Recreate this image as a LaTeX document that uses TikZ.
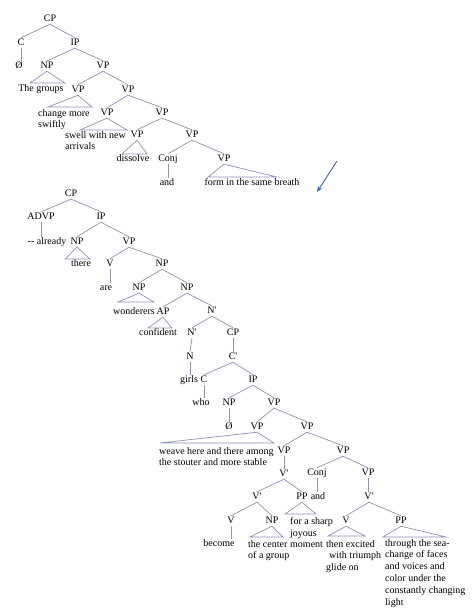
\documentclass[tikz,border=0pt]{standalone}
\usepackage{fontspec}
\setmainfont{Liberation Serif}
\usetikzlibrary{arrows.meta}
\definecolor{edgec}{RGB}{140,146,185}
\definecolor{arrowblue}{RGB}{70,100,180}
\begin{document}
\begin{tikzpicture}[x=1pt,y=-1pt,
  lab/.style={font=\fontsize{10}{11.8}\selectfont, inner sep=0.5pt, text height=7pt, text depth=2pt, anchor=center},
  multi/.style={font=\fontsize{10}{11.8}\selectfont, inner sep=0pt, align=left, anchor=north west},
  edge/.style={draw=edgec, line width=0.7pt}]
\path[use as bounding box, fill=white] (0,0) rectangle (474,616);

% ---------------- tree 1 ----------------
\node[lab] (cp1) at (50,19) {CP};
\node[lab] (c1) at (21,43) {C};
\node[lab] (ip1) at (75,43) {IP};
\node[lab] (z1) at (19,66) {Ø};
\node[lab] (np1) at (47,66) {NP};
\node[lab] (vp1) at (103,66) {VP};
\node[lab] (groups) at (41,89) {The groups};
\node[lab] (vp2) at (78,90) {VP};
\node[lab] (vp3) at (128,90) {VP};
\node[multi] (change) at (38,109) {change more\\swiftly};
\node[lab] (vp4) at (107,113) {VP};
\node[lab] (vp5) at (162,113) {VP};
\node[multi] (swell) at (65,131) {swell with new\\arrivals};
\node[lab] (vp6) at (137,135) {VP};
\node[lab] (vp7) at (192,135) {VP};
\node[lab] (dissolve) at (133,159) {dissolve};
\node[lab] (conj1) at (168,159) {Conj};
\node[lab] (vp8) at (224,159) {VP};
\node[lab] (and1) at (167,183) {and};
\node[lab] (form) at (252,183) {form in the same breath};

\coordinate (a1) at (30,83);  \coordinate (b1) at (65,83);
\coordinate (a2) at (48,107); \coordinate (b2) at (92,107);
\coordinate (a3) at (80,130); \coordinate (b3) at (127,130);
\coordinate (a4) at (122,154); \coordinate (b4) at (147,154);
\coordinate (a5) at (208,177); \coordinate (b5) at (277,177);

\draw[edge] (cp1.south) -- (c1.north);
\draw[edge] (cp1.south) -- (ip1.north);
\draw[edge] (c1.south) -- (c1.south |- z1.north);
\draw[edge] (ip1.south) -- (np1.north);
\draw[edge] (ip1.south) -- (vp1.north);
\draw[edge] (np1.south) -- (a1) -- (b1) -- cycle;
\draw[edge] (vp1.south) -- (vp2.north);
\draw[edge] (vp1.south) -- (vp3.north);
\draw[edge] (vp2.south) -- (a2) -- (b2) -- cycle;
\draw[edge] (vp3.south) -- (vp4.north);
\draw[edge] (vp3.south) -- (vp5.north);
\draw[edge] (vp4.south) -- (a3) -- (b3) -- cycle;
\draw[edge] (vp5.south) -- (vp6.north);
\draw[edge] (vp5.south) -- (vp7.north);
\draw[edge] (vp6.south) -- (a4) -- (b4) -- cycle;
\draw[edge] (vp7.south) -- (conj1.north);
\draw[edge] (vp7.south) -- (vp8.north);
\draw[edge] (conj1.south) -- (conj1.south |- and1.north);
\draw[edge] (vp8.south) -- (a5) -- (b5) -- cycle;

% arrow
\coordinate (arrS) at (337,161);
\coordinate (arrE) at (317,192);
\draw[arrowblue, line width=0.9pt, -{Stealth[length=6pt,width=5pt]}] (arrS) -- (arrE);

% ---------------- tree 2 ----------------
\node[lab] (cp2) at (71,194) {CP};
\node[lab] (advp) at (41,217) {ADVP};
\node[lab] (ip2) at (101,217) {IP};
\node[lab] (already) at (47,242) {{-}{-} already};
\node[lab] (np2) at (77,242) {NP};
\node[lab] (vp9) at (129,242) {VP};
\node[lab] (there) at (81,264) {there};
\node[lab] (v1) at (110,264) {V};
\node[lab] (np3) at (162,264) {NP};
\node[lab] (are) at (106,288) {are};
\node[lab] (np4) at (139,288) {NP};
\node[lab] (np5) at (187,288) {NP};
\node[lab] (wond) at (134,312) {wonderers};
\node[lab] (ap) at (163,312) {AP};
\node[lab] (nb1) at (212,311) {N\textquotesingle};
\node[lab] (conf) at (158,333) {confident};
\node[lab] (nb2) at (192,333) {N\textquotesingle};
\node[lab] (cp3) at (233,333) {CP};
\node[lab] (n1) at (190,357) {N};
\node[lab] (cb) at (233,357) {C\textquotesingle};
\node[lab] (girls) at (189,380) {girls};
\node[lab] (c2) at (204,380) {C};
\node[lab] (ip3) at (253,380) {IP};
\node[lab] (who) at (201,403) {who};
\node[lab] (np6) at (229,403) {NP};
\node[lab] (vp10) at (274,403) {VP};
\node[lab] (z2) at (229,427) {Ø};
\node[lab] (vp11) at (257,427) {VP};
\node[lab] (vp12) at (307,427) {VP};
\node[multi] (weave) at (159,447) {weave here and there among\\the stouter and more stable};
\node[lab] (vp13) at (284,451) {VP};
\node[lab] (vp14) at (343,451) {VP};
\node[lab] (vb1) at (284,474) {V\textquotesingle};
\node[lab] (conj2) at (317,473) {Conj};
\node[lab] (vp15) at (368,473) {VP};
\node[lab] (vb2) at (257,497) {V\textquotesingle};
\node[lab] (pp1) at (302,497) {PP};
\node[lab] (and2) at (318,497) {and};
\node[lab] (vb3) at (369,497) {V\textquotesingle};
\node[lab] (v2) at (231,521) {V};
\node[lab] (np7) at (272,521) {NP};
\node[multi] (sharp) at (290,517) {for a sharp\\joyous\\moment};
\node[lab] (v3) at (346,521) {V};
\node[lab] (pp2) at (401,521) {PP};
\node[lab] (become) at (219,544) {become};
\node[multi] (center) at (248,540) {the center\\of a group};
\node[multi] (excited) at (326,540) {then excited\\\hspace*{3pt}with triumph\\glide on};
\node[multi] (through) at (385,539) {through the sea-\\change of faces\\and voices and\\color under the\\constantly changing\\light};

\coordinate (a6) at (65,259);  \coordinate (b6) at (90,259);
\coordinate (a7) at (118,302); \coordinate (b7) at (154,302);
\coordinate (a8) at (148,328); \coordinate (b8) at (172,328);
\coordinate (a9) at (160,443); \coordinate (b9) at (274,443);
\coordinate (a10) at (285,514); \coordinate (b10) at (316,514);
\coordinate (a11) at (250,537); \coordinate (b11) at (283,537);
\coordinate (a12) at (328,536); \coordinate (b12) at (365,536);
\coordinate (a13) at (383,537); \coordinate (b13) at (446,537);

\draw[edge] (cp2.south) -- (advp.north);
\draw[edge] (cp2.south) -- (ip2.north);
\draw[edge] (advp.south) -- (advp.south |- already.north);
\draw[edge] (ip2.south) -- (np2.north);
\draw[edge] (ip2.south) -- (vp9.north);
\draw[edge] (np2.south) -- (a6) -- (b6) -- cycle;
\draw[edge] (vp9.south) -- (v1.north);
\draw[edge] (vp9.south) -- (np3.north);
\draw[edge] (v1.south) -- (v1.south |- are.north);
\draw[edge] (np3.south) -- (np4.north);
\draw[edge] (np3.south) -- (np5.north);
\draw[edge] (np4.south) -- (a7) -- (b7) -- cycle;
\draw[edge] (np5.south) -- (ap.north);
\draw[edge] (np5.south) -- (nb1.north);
\draw[edge] (ap.south) -- (a8) -- (b8) -- cycle;
\draw[edge] (nb1.south) -- (nb2.north);
\draw[edge] (nb1.south) -- (cp3.north);
\draw[edge] (nb2.south) -- (n1.north);
\draw[edge] (n1.south) -- (n1.south |- girls.north);
\draw[edge] (cp3.south) -- (cb.north);
\draw[edge] (cb.south) -- (c2.north);
\draw[edge] (cb.south) -- (ip3.north);
\draw[edge] (c2.south) -- (c2.south |- who.north);
\draw[edge] (ip3.south) -- (np6.north);
\draw[edge] (ip3.south) -- (vp10.north);
\draw[edge] (np6.south) -- (np6.south |- z2.north);
\draw[edge] (vp10.south) -- (vp11.north);
\draw[edge] (vp10.south) -- (vp12.north);
\draw[edge] (vp11.south) -- (a9) -- (b9) -- cycle;
\draw[edge] (vp12.south) -- (vp13.north);
\draw[edge] (vp12.south) -- (vp14.north);
\draw[edge] (vp13.south) -- (vp13.south |- vb1.north);
\draw[edge] (vp14.south) -- (conj2.north);
\draw[edge] (vp14.south) -- (vp15.north);
\draw[edge] (conj2.south) -- (conj2.south |- and2.north);
\draw[edge] (vp15.south) -- (vp15.south |- vb3.north);
\draw[edge] (vb1.south) -- (vb2.north);
\draw[edge] (vb1.south) -- (pp1.north);
\draw[edge] (pp1.south) -- (a10) -- (b10) -- cycle;
\draw[edge] (vb2.south) -- (v2.north);
\draw[edge] (vb2.south) -- (np7.north);
\draw[edge] (v2.south) -- (v2.south |- become.north);
\draw[edge] (np7.south) -- (a11) -- (b11) -- cycle;
\draw[edge] (vb3.south) -- (v3.north);
\draw[edge] (vb3.south) -- (pp2.north);
\draw[edge] (v3.south) -- (a12) -- (b12) -- cycle;
\draw[edge] (pp2.south) -- (a13) -- (b13) -- cycle;
\end{tikzpicture}
\end{document}
